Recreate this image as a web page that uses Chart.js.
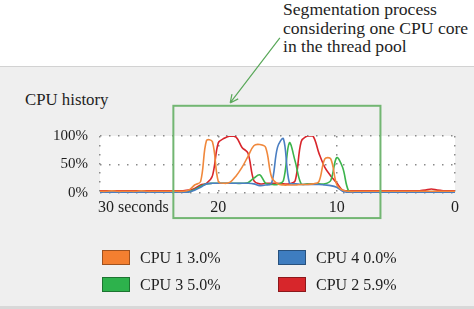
<!DOCTYPE html>
<html>
<head>
<meta charset="utf-8">
<script src="https://cdn.jsdelivr.net/npm/chart.js@4.4.0/dist/chart.umd.min.js"></script>
<style>
  html, body { margin: 0; padding: 0; }
  body { width: 474px; height: 309px; position: relative; overflow: hidden; background: #fff;
         font-family: "Liberation Serif", "DejaVu Serif", serif; color: #1e1e1e; }
  #panel { position: absolute; left: 0; top: 66px; width: 474px; height: 243px; background: #efefef;
           border-top: 1px solid #d2d2d2; border-bottom: 3px solid #d8d8d8; box-sizing: border-box; }
  #note { position: absolute; left: 283px; top: 0px; font-size: 17.6px; line-height: 18.5px; }
  #title { position: absolute; left: 25px; top: 90px; font-size: 16.8px; }
  #cv { position: absolute; left: 0; top: 0; }
  #legend { position: absolute; left: 102px; top: 250px; display: grid;
            grid-template-columns: 176px 176px; row-gap: 12px; font-size: 16px; }
  .item { display: flex; align-items: center; height: 15px; }
  .sw { width: 28px; height: 15px; box-sizing: border-box; border: 1px solid rgba(0,0,0,0.35); margin-right: 10px; }
</style>
</head>
<body>
<div id="panel"></div>
<div id="note">Segmentation process<br>considering one CPU core<br>in the thread pool</div>
<div id="title">CPU history</div>
<canvas id="cv" width="474" height="309"></canvas>
<div id="legend"></div>
<script>
// seconds ago (x axis runs 30 -> 0)
const times = [30, 29.5, 29, 28.5, 28, 27.5, 27, 26.5, 26, 25.5, 25, 24.5, 24, 23.5,
  23, 22.5, 22, 21.5, 21, 20.5, 20, 19.5, 19, 18.5, 18, 17.5, 17, 16.5, 16, 15.5,
  15, 14.5, 14, 13.5, 13, 12.5, 12, 11.5, 11, 10.5, 10, 9.5, 9, 8.5, 8, 7.5,
  7, 6.5, 6, 5.5, 5, 4.5, 4, 3.5, 3, 2.5, 2, 1.5, 1, 0.5, 0];

// usage in %
const cpu1 = [3, 3, 4, 3, 3, 3, 3, 4, 3, 3, 3, 3, 3, 3,
  3, 5, 14, 20, 92, 90, 20, 17, 19, 30, 45, 64, 83, 85, 80, 28,
  16, 14, 14, 14, 15, 15, 16, 20, 60, 60, 15, 5, 3, 3, 3, 3,
  3, 3, 3, 3, 3, 3, 3, 3, 3, 3, 3, 3, 3, 3, 3];
const cpu2 = [4, 4, 4, 4, 4, 4, 4, 4, 4, 4, 4, 4, 4, 4,
  4, 5, 8, 14, 17, 30, 88, 96, 100, 98, 80, 70, 22, 16, 17, 17,
  17, 16, 16, 22, 90, 100, 100, 70, 45, 30, 18, 5, 4, 4, 4, 4,
  4, 4, 4, 4, 4, 4, 4, 4, 4, 5, 7, 5, 4, 4, 4];
const cpu3 = [1, 1, 1, 1, 1, 1, 1, 1, 1, 1, 1, 1, 1, 1,
  1, 2, 6, 12, 16, 17, 17, 17, 17, 17, 17, 18, 26, 32, 17, 15,
  15, 22, 88, 55, 16, 16, 16, 16, 16, 22, 62, 45, 4, 2, 2, 2,
  2, 2, 2, 2, 2, 2, 2, 2, 2, 2, 2, 2, 2, 2, 2];
const cpu4 = [1, 1, 1, 1, 1, 1, 1, 1, 1, 1, 1, 1, 1, 1,
  1, 2, 5, 10, 16, 17, 17, 17, 17, 17, 17, 17, 16, 13, 14, 17,
  80, 95, 18, 16, 15, 15, 15, 15, 14, 13, 10, 3, 1, 1, 1, 1,
  1, 1, 1, 1, 1, 1, 1, 1, 1, 1, 1, 1, 1, 1, 1];

const xTicks = [30, 20, 10, 0];
const xTickLabels = ['30 seconds', '20', '10', '0'];
const yTicks = [0, 50, 100];

const names = ['CPU 1', 'CPU 4', 'CPU 3', 'CPU 2'];
const current = ['3.0%', '0.0%', '5.0%', '5.9%'];
const lineColors = ['#f0883c', '#4a7ec2', '#3cb44c', '#d8262c'];
const swatchColors = ['#f47f30', '#3e7dc0', '#2db24c', '#d7262b'];
const seriesData = [cpu1, cpu4, cpu3, cpu2];

// annotation box and arrow, in axis units
const box = { from: 23.8, to: 6.3, top: 153, bottom: -44 };
const arrow = { x1: 14.8, y1: 272, x2: 19.0, y2: 158 };

const serif = '"Liberation Serif", "DejaVu Serif", serif';

const legend = document.getElementById('legend');
names.forEach((n, i) => {
  const it = document.createElement('div');
  it.className = 'item';
  it.innerHTML = `<span class="sw" style="background:${swatchColors[i]}"></span>${n} ${current[i]}`;
  legend.appendChild(it);
});

const overlay = {
  id: 'overlay',
  beforeDraw(chart) {
    const { ctx, chartArea: a } = chart;
    ctx.save();
    ctx.fillStyle = '#fff';
    ctx.fillRect(a.left, a.top, a.right - a.left, a.bottom - a.top);
    ctx.restore();
  },
  afterDraw(chart) {
    const { ctx, scales: { x, y }, chartArea: a } = chart;
    ctx.save();
    ctx.fillStyle = '#1e1e1e';
    ctx.font = '16px ' + serif;
    ctx.textBaseline = 'middle';
    xTicks.forEach((t, i) => {
      const px = x.getPixelForValue(t);
      ctx.textAlign = i === 0 ? 'left' : 'center';
      ctx.fillText(xTickLabels[i], i === 0 ? px - 2 : px, a.bottom + 15);
    });

    ctx.strokeStyle = '#72b672';
    ctx.lineWidth = 2;
    const bl = x.getPixelForValue(box.from), br = x.getPixelForValue(box.to);
    const bt = y.getPixelForValue(box.top), bb = y.getPixelForValue(box.bottom);
    ctx.strokeRect(bl, bt, br - bl, bb - bt);

    const x1 = x.getPixelForValue(arrow.x1), y1 = y.getPixelForValue(arrow.y1);
    const x2 = x.getPixelForValue(arrow.x2), y2 = y.getPixelForValue(arrow.y2);
    ctx.strokeStyle = '#5aa85a';
    ctx.lineWidth = 1.2;
    ctx.beginPath();
    ctx.moveTo(x1, y1);
    ctx.lineTo(x2, y2);
    const ang = Math.atan2(y2 - y1, x2 - x1);
    [0.45, -0.45].forEach(d => {
      ctx.moveTo(x2, y2);
      ctx.lineTo(x2 - 9 * Math.cos(ang + d), y2 - 9 * Math.sin(ang + d));
    });
    ctx.stroke();
    ctx.restore();
  }
};

new Chart(document.getElementById('cv'), {
  type: 'line',
  data: {
    datasets: seriesData.map((vals, i) => ({
      label: names[i],
      data: times.map((t, j) => ({ x: t, y: vals[j] })),
      borderColor: lineColors[i],
      borderWidth: 1.6,
      pointRadius: 0,
      tension: 0.35,
      fill: false
    }))
  },
  options: {
    responsive: false,
    animation: false,
    devicePixelRatio: 1,
    layout: { padding: { top: 136, right: 19, bottom: 116, left: 0 } },
    plugins: { legend: { display: false }, tooltip: { enabled: false } },
    scales: {
      x: {
        type: 'linear', min: 0, max: 30, reverse: true,
        afterFit: s => { s.height = 0; },
        afterBuildTicks: s => { s.ticks = xTicks.map(v => ({ value: v })); },
        ticks: { display: false },
        grid: { color: '#8a8a8a', lineWidth: 1.5, drawTicks: false },
        border: { display: false, dash: [1.5, 7.5] }
      },
      y: {
        min: 0, max: 100,
        afterFit: s => { s.width = 100; },
        afterBuildTicks: s => { s.ticks = yTicks.map(v => ({ value: v })); },
        ticks: { padding: 12, color: '#1e1e1e', font: { size: 15, family: serif },
                 callback: v => v + '%' },
        grid: { color: '#8a8a8a', lineWidth: 1.5, drawTicks: false },
        border: { display: false, dash: [1.5, 7.5] }
      }
    }
  },
  plugins: [overlay]
});
</script>
</body>
</html>
